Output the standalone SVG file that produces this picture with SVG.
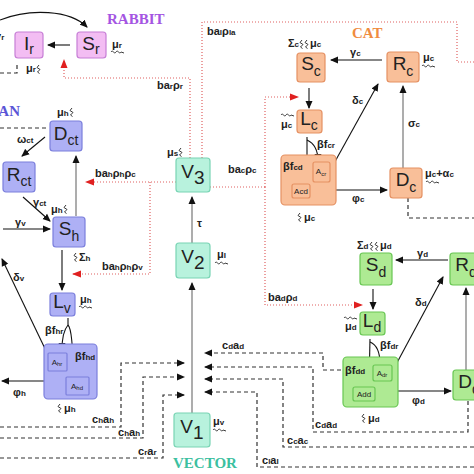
<svg xmlns="http://www.w3.org/2000/svg" width="474" height="474" viewBox="0 0 474 474">
<style>
.t{font-family:"Liberation Sans",Arial,sans-serif;font-weight:bold;font-size:11px;fill:#222}
.s{font-size:8px}
.n{font-family:"Liberation Sans",Arial,sans-serif;font-size:19px;fill:#222}
.ns{font-size:14px}
.sm{font-family:"Liberation Sans",Arial,sans-serif;font-size:8px;fill:#222}
.title{font-family:"Liberation Serif","Times New Roman",serif;font-weight:bold;font-size:15px}
.rab{fill:#f3bdf3;stroke:#c77fd6;stroke-width:1.2}
.hum{fill:#aeb0f5;stroke:#7b7fdc;stroke-width:1.2}
.cat{fill:#f9bf99;stroke:#e59163;stroke-width:1.2}
.dog{fill:#aeea93;stroke:#68c653;stroke-width:1.2}
.vec{fill:#b8f2dd;stroke:#79d4b4;stroke-width:1.2}
.sol{fill:none;stroke:#111;stroke-width:1.1}
.gry{fill:none;stroke:#999;stroke-width:1.6}
.red{fill:none;stroke:#e06060;stroke-width:1.2;stroke-dasharray:1 2}
.dsh{fill:none;stroke:#333;stroke-width:1.2;stroke-dasharray:4 3}
.sq{fill:none;stroke:#222;stroke-width:0.9}
</style>
<defs>
<marker id="ah" markerWidth="8" markerHeight="8" refX="7" refY="4" orient="auto" markerUnits="userSpaceOnUse"><path d="M0,0.5 L8,4 L0,7.5 z" fill="#111"/></marker>
<marker id="ar" markerWidth="9" markerHeight="8" refX="8" refY="4" orient="auto" markerUnits="userSpaceOnUse"><path d="M0,0.5 L9,4 L0,7.5 z" fill="#e02020"/></marker>
<path id="vs" d="M2,0 l-2,2.5 l3,2 l-2.5,2.5 l2,1.5" class="sq"/>
<path id="ws" d="M0,2 c2,-3 3,3 5,0 s3,3 5,0 l3,1" class="sq"/>
</defs>

<!-- titles -->
<text class="title" x="107" y="24" fill="#a455e2">RABBIT</text>
<text class="title" x="20" y="116" fill="#5a55d6" text-anchor="end">HUMAN</text>
<text class="title" x="352" y="38" fill="#f08c40">CAT</text>
<text class="title" x="173" y="468" fill="#3cc0a0" font-size="16">VECTOR</text>

<g id="connectors">
<!-- rabbit -->
<path class="sol" d="M70,45 L48,45" marker-end="url(#ah)"/>
<path class="sol" d="M0,20 C30,8 70,10 87,27" marker-end="url(#ah)"/>
<path class="dsh" d="M0,73 L17,73 L17,65"/>
<!-- human -->
<path class="dsh" d="M0,128 L48,128"/>
<path class="sol" d="M45,137 L22,156" marker-end="url(#ah)"/>
<path class="sol" d="M23,197 L50,221" marker-end="url(#ah)"/>
<path class="sol" d="M3,229 L50,229" marker-end="url(#ah)"/>
<path class="gry" d="M76,216 L76,156" marker-end="url(#ah)"/>
<path class="sol" d="M62,250 L62,290" marker-end="url(#ah)"/>
<path class="sol" d="M68,318 L68,325 Q62,332 62,350" marker-end="url(#ah)"/>
<path class="sol" d="M68,325 Q73,330 73,376" marker-end="url(#ah)"/>
<path class="sol" d="M49,357 L2,259" marker-end="url(#ah)"/>
<path class="sol" d="M66,381 L2,381" marker-end="url(#ah)"/>
<!-- vector -->
<path class="gry" d="M192,243 L192,197" marker-end="url(#ah)"/>
<path class="gry" d="M192,413 L192,283" marker-end="url(#ah)"/>
<!-- red dotted -->
<path class="red" d="M190,158 L190,78 L64,78 L64,60" marker-end="url(#ar)"/>
<path class="red" d="M202,158 L202,22 L457,22 L457,62 L474,62"/>
<path class="red" d="M176,182 L86,182" marker-end="url(#ar)"/>
<path class="red" d="M150,182 L150,274 L73,274" marker-end="url(#ar)"/>
<path class="red" d="M210,187 L265,187"/>
<path class="red" d="M265,187 L265,97 L298,97" marker-end="url(#ar)"/>
<path class="red" d="M265,187 L265,305 L362,305" marker-end="url(#ar)"/>
<!-- cat -->
<path class="sol" d="M382,60 L331,60" marker-end="url(#ah)"/>
<path class="sol" d="M309,88 L309,108" marker-end="url(#ah)"/>
<path class="sol" d="M307,137 L307,183" marker-end="url(#ah)"/>
<path class="sol" d="M307,140 Q318,145 318,161" marker-end="url(#ah)"/>
<path class="sol" d="M327,176 L378,84" marker-end="url(#ah)"/>
<path class="sol" d="M310,190 L387,190" marker-end="url(#ah)"/>
<path class="gry" d="M403,168 L403,86" marker-end="url(#ah)"/>
<path class="dsh" d="M408,198 L408,218 L474,218"/>
<!-- dog -->
<path class="sol" d="M448,260 L396,260" marker-end="url(#ah)"/>
<path class="sol" d="M373,289 L373,309" marker-end="url(#ah)"/>
<path class="sol" d="M370,339 L369,385" marker-end="url(#ah)"/>
<path class="sol" d="M370,342 Q380,346 380,364" marker-end="url(#ah)"/>
<path class="sol" d="M392,372 L443,277" marker-end="url(#ah)"/>
<path class="sol" d="M375,391 L451,391" marker-end="url(#ah)"/>
<path class="gry" d="M466,370 L466,288" marker-end="url(#ah)"/>
<!-- dashed contacts -->
<path class="dsh" d="M341,370 L323,370 L323,353 L205,353" marker-end="url(#ah)"/>
<path class="dsh" d="M468,401 L468,432 L313,432 L313,367 L205,367" marker-end="url(#ah)"/>
<path class="dsh" d="M474,447 L283,447 L283,379 L205,379" marker-end="url(#ah)"/>
<path class="dsh" d="M474,467 L257,467 L257,392 L205,392" marker-end="url(#ah)"/>
<path class="dsh" d="M0,427 L121,427 L121,363 L184,363" marker-end="url(#ah)"/>
<path class="dsh" d="M0,438 L143,438 L143,377 L184,377" marker-end="url(#ah)"/>
<path class="dsh" d="M0,458 L163,458 L163,395 L184,395" marker-end="url(#ah)"/>
</g>

<!-- rabbit nodes -->
<g id="Ir"><rect class="rab" x="15" y="32" width="28" height="26" rx="3"/><text class="n" x="29" y="50" text-anchor="middle">I<tspan class="ns" dy="4">r</tspan></text></g>
<g id="Sr"><rect class="rab" x="77" y="32" width="29" height="26" rx="3"/><text class="n" x="91" y="50" text-anchor="middle">S<tspan class="ns" dy="4">r</tspan></text></g>
<!-- human nodes -->
<g id="Dct"><rect class="hum" x="50" y="121" width="32" height="30" rx="3"/><text class="n" x="66" y="140" text-anchor="middle">D<tspan class="ns" dy="5">ct</tspan></text></g>
<g id="Rct"><rect class="hum" x="3" y="162" width="32" height="30" rx="3"/><text class="n" x="19" y="181" text-anchor="middle">R<tspan class="ns" dy="5">ct</tspan></text></g>
<g id="Sh"><rect class="hum" x="53" y="217" width="32" height="30" rx="3"/><text class="n" x="69" y="235" text-anchor="middle">S<tspan class="ns" dy="6">h</tspan></text></g>
<g id="Lv"><rect class="hum" x="50" y="293" width="25" height="23" rx="3"/><text class="n" x="62" y="308" text-anchor="middle">L<tspan class="ns" dy="5">v</tspan></text></g>
<g id="Ah"><rect class="hum" x="44" y="344" width="53" height="55" rx="4"/>
<rect class="hum" x="48" y="353" width="19" height="18" rx="1"/><text class="sm" x="57" y="365" text-anchor="middle">A<tspan font-size="6" dy="1">hr</tspan></text>
<rect class="hum" x="66" y="377" width="23" height="18" rx="1"/><text class="sm" x="77" y="389" text-anchor="middle">A<tspan font-size="6" dy="1">hd</tspan></text></g>
<!-- vector nodes -->
<g id="V3"><rect class="vec" x="176" y="158" width="34" height="34" rx="3"/><text class="n" x="193" y="178" text-anchor="middle">V<tspan class="n" dy="6">3</tspan></text></g>
<g id="V2"><rect class="vec" x="176" y="243" width="34" height="35" rx="3"/><text class="n" x="193" y="263" text-anchor="middle">V<tspan class="n" dy="6">2</tspan></text></g>
<g id="V1"><rect class="vec" x="174" y="413" width="36" height="34" rx="3"/><text class="n" x="192" y="433" text-anchor="middle">V<tspan class="n" dy="6">1</tspan></text></g>
<!-- cat nodes -->
<g id="Sc"><rect class="cat" x="297" y="53" width="28" height="29" rx="3"/><text class="n" x="311" y="70" text-anchor="middle">S<tspan class="ns" dy="6">c</tspan></text></g>
<g id="Rc"><rect class="cat" x="387" y="52" width="32" height="30" rx="3"/><text class="n" x="403" y="70" text-anchor="middle">R<tspan class="ns" dy="6">c</tspan></text></g>
<g id="Lc"><rect class="cat" x="297" y="110" width="25" height="23" rx="3"/><text class="n" x="309" y="125" text-anchor="middle">L<tspan class="ns" dy="5">c</tspan></text></g>
<g id="Ac"><rect class="cat" x="281" y="155" width="55" height="50" rx="4"/>
<rect class="cat" x="313" y="162" width="17" height="20" rx="2"/><text class="sm" x="321" y="174" text-anchor="middle">A<tspan font-size="6" dy="2">cr</tspan></text>
<rect class="cat" x="292" y="184" width="18" height="14" rx="2"/><text class="sm" x="301" y="194" text-anchor="middle">Acd</text></g>
<g id="Dc"><rect class="cat" x="390" y="168" width="32" height="30" rx="3"/><text class="n" x="406" y="186" text-anchor="middle">D<tspan class="ns" dy="6">c</tspan></text></g>
<!-- dog nodes -->
<g id="Sd"><rect class="dog" x="360" y="253" width="32" height="32" rx="3"/><text class="n" x="376" y="271" text-anchor="middle">S<tspan class="ns" dy="6">d</tspan></text></g>
<g id="Rd"><rect class="dog" x="450" y="253" width="32" height="32" rx="3"/><text class="n" x="466" y="271" text-anchor="middle">R<tspan class="ns" dy="6">d</tspan></text></g>
<g id="Ld"><rect class="dog" x="360" y="312" width="25" height="23" rx="3"/><text class="n" x="372" y="327" text-anchor="middle">L<tspan class="ns" dy="5">d</tspan></text></g>
<g id="Ad"><rect class="dog" x="343" y="357" width="55" height="50" rx="4"/>
<rect class="dog" x="373" y="365" width="19" height="16" rx="2"/><text class="sm" x="382" y="376" text-anchor="middle">A<tspan font-size="6" dy="1">dr</tspan></text>
<rect class="dog" x="353" y="387" width="22" height="14" rx="2"/><text class="sm" x="364" y="397" text-anchor="middle">Add</text></g>
<g id="Dd"><rect class="dog" x="453" y="370" width="32" height="30" rx="3"/><text class="n" x="469" y="388" text-anchor="middle">D<tspan class="ns" dy="6">d</tspan></text></g>

<!-- labels -->
<g id="labels">
<text class="t" x="-5" y="40">γ<tspan class="s">r</tspan></text>
<text class="t" x="112" y="48">μ<tspan class="s">r</tspan></text><use href="#ws" x="111" y="50"/>
<text class="t" x="26" y="72">μ<tspan class="s">r</tspan></text><use href="#vs" x="37" y="65"/>
<text class="t" x="57" y="116">μ<tspan class="s">h</tspan></text><use href="#vs" x="70" y="108"/>
<text class="t" x="17" y="143">ω<tspan class="s">ct</tspan></text>
<text class="t" x="33" y="206">γ<tspan class="s">ct</tspan></text>
<text class="t" x="51" y="213">μ<tspan class="s">h</tspan></text><use href="#vs" x="64" y="205"/>
<text class="t" x="15" y="226">γ<tspan class="s">v</tspan></text>
<text class="t" x="95" y="177">ba<tspan class="s">h</tspan>ρ<tspan class="s">h</tspan>ρ<tspan class="s">c</tspan></text>
<use href="#vs" x="74" y="253"/><text class="t" x="79" y="261">Σ<tspan class="s">h</tspan></text>
<text class="t" x="102" y="270">ba<tspan class="s">h</tspan>ρ<tspan class="s">h</tspan>ρ<tspan class="s">v</tspan></text>
<text class="t" x="13" y="281">δ<tspan class="s">v</tspan></text>
<text class="t" x="80" y="303">μ<tspan class="s">h</tspan></text><use href="#ws" x="79" y="305"/>
<text class="t" x="45" y="334">βf<tspan class="s">hr</tspan></text>
<text class="t" x="75" y="360">βf<tspan class="s">hd</tspan></text>
<text class="t" x="13" y="396">φ<tspan class="s">h</tspan></text>
<use href="#vs" x="58" y="404"/><text class="t" x="64" y="412">μ<tspan class="s">h</tspan></text>
<text class="t" x="157" y="89">ba<tspan class="s">r</tspan>ρ<tspan class="s">r</tspan></text>
<text class="t" x="207" y="35">ba<tspan class="s">l</tspan>ρ<tspan class="s">la</tspan></text>
<text class="t" x="167" y="156">μ<tspan class="s">s</tspan></text><use href="#vs" x="179" y="148"/>
<text class="t" x="197" y="227">τ</text>
<text class="t" x="217" y="258">μ<tspan class="s">I</tspan></text><use href="#ws" x="215" y="261"/>
<text class="t" x="213" y="425">μ<tspan class="s">v</tspan></text><use href="#ws" x="213" y="428"/>
<text class="t" x="228" y="173">ba<tspan class="s">c</tspan>ρ<tspan class="s">c</tspan></text>
<text class="t" x="268" y="301">ba<tspan class="s">d</tspan>ρ<tspan class="s">d</tspan></text>
<text class="t" x="288" y="47">Σ<tspan class="s">c</tspan></text><use href="#vs" x="300" y="40"/><use href="#vs" x="305" y="40"/><text class="t" x="310" y="47">μ<tspan class="s">c</tspan></text>
<text class="t" x="350" y="56">γ<tspan class="s">c</tspan></text>
<text class="t" x="423" y="61">μ<tspan class="s">c</tspan></text><use href="#ws" x="422" y="64"/>
<use href="#ws" x="281" y="113"/><text class="t" x="281" y="128">μ<tspan class="s">c</tspan></text>
<text class="t" x="317" y="148">βf<tspan class="s">cr</tspan></text>
<text class="t" x="283" y="170">βf<tspan class="s">cd</tspan></text>
<text class="t" x="352" y="104">δ<tspan class="s">c</tspan></text>
<text class="t" x="408" y="127">σ<tspan class="s">c</tspan></text>
<text class="t" x="425" y="177">μ<tspan class="s">c</tspan>+α<tspan class="s">c</tspan></text><use href="#ws" x="426" y="180"/>
<text class="t" x="352" y="202">φ<tspan class="s">c</tspan></text>
<use href="#vs" x="298" y="213"/><text class="t" x="304" y="221">μ<tspan class="s">c</tspan></text>
<text class="t" x="357" y="249">Σ<tspan class="s">d</tspan></text><use href="#vs" x="370" y="242"/><use href="#vs" x="375" y="242"/><text class="t" x="380" y="249">μ<tspan class="s">d</tspan></text>
<text class="t" x="417" y="257">γ<tspan class="s">d</tspan></text>
<text class="t" x="415" y="306">δ<tspan class="s">d</tspan></text>
<use href="#ws" x="344" y="316"/><text class="t" x="345" y="330">μ<tspan class="s">d</tspan></text>
<text class="t" x="380" y="349">βf<tspan class="s">dr</tspan></text>
<text class="t" x="345" y="374">βf<tspan class="s">dd</tspan></text>
<text class="t" x="412" y="404">φ<tspan class="s">d</tspan></text>
<use href="#vs" x="362" y="414"/><text class="t" x="368" y="422">μ<tspan class="s">d</tspan></text>
<text class="t" x="222" y="349">c<tspan class="s">d</tspan>a<tspan class="s">d</tspan></text>
<text class="t" x="315" y="428">c<tspan class="s">d</tspan>a<tspan class="s">d</tspan></text>
<text class="t" x="287" y="444">c<tspan class="s">c</tspan>a<tspan class="s">c</tspan></text>
<text class="t" x="262" y="464">c<tspan class="s">l</tspan>a<tspan class="s">l</tspan></text>
<text class="t" x="92" y="423">c<tspan class="s">h</tspan>a<tspan class="s">h</tspan></text>
<text class="t" x="118" y="436">c<tspan class="s">h</tspan>a<tspan class="s">h</tspan></text>
<text class="t" x="138" y="455">c<tspan class="s">r</tspan>a<tspan class="s">r</tspan></text>
</g>
</svg>
